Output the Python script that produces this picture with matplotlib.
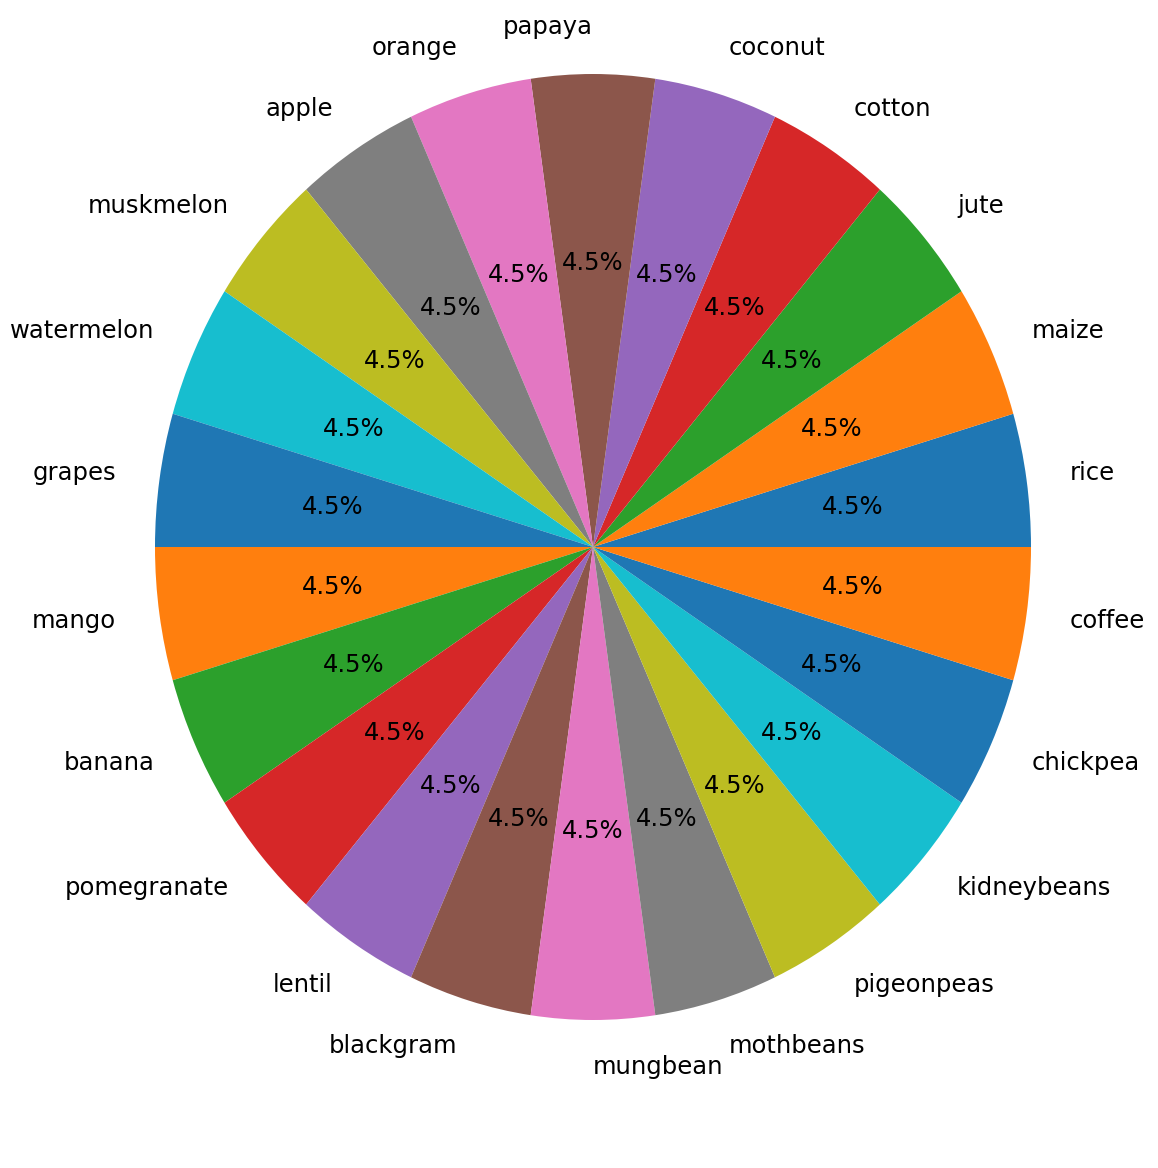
import matplotlib
matplotlib.use("Agg")
import matplotlib.pyplot as plt

crops = ["rice", "maize", "jute", "cotton", "coconut", "papaya", "orange", "apple",
         "muskmelon", "watermelon", "grapes", "mango", "banana", "pomegranate", "lentil",
         "blackgram", "mungbean", "mothbeans", "pigeonpeas", "kidneybeans", "chickpea", "coffee"]
counts = [100] * len(crops)

W, H = 1158, 1168
fig = plt.figure(figsize=(W / 100, H / 100), dpi=100)
cx, cy = 593, 547
rx, ry = 438, 473
aw, ah = 2.5 * rx, 2.5 * ry
ax = fig.add_axes([(cx - aw / 2) / W, (H - cy - ah / 2) / H, aw / W, ah / H])
ax.pie(counts, labels=crops, autopct="%1.1f%%",
       textprops={"fontsize": 17.5})
ax.set_aspect("auto")
ax.set_xlim(-1.25, 1.25)
ax.set_ylim(-1.25, 1.25)
fig.savefig("out.png", dpi=100)
